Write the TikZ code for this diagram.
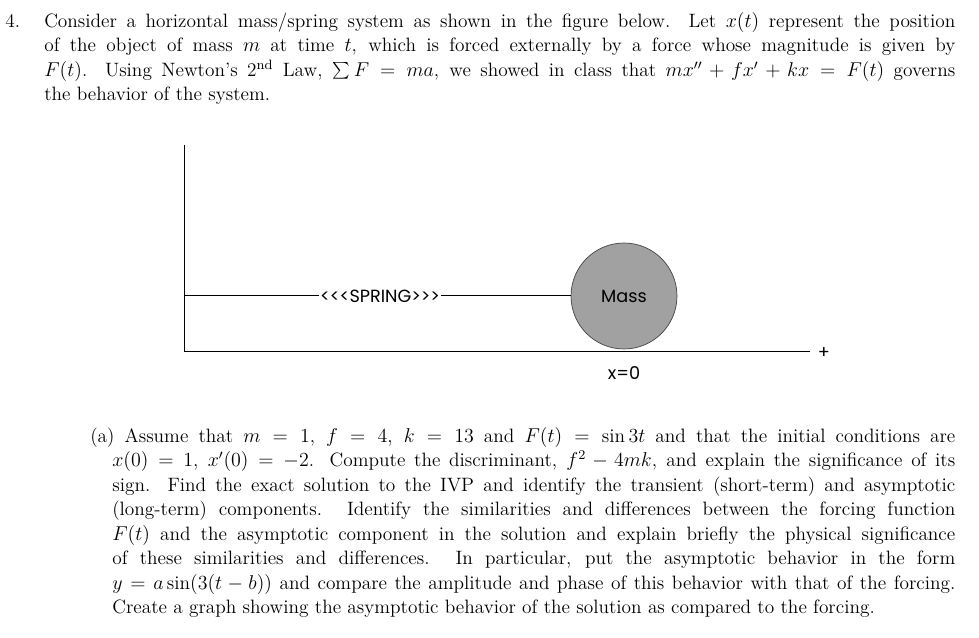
\documentclass[tikz,border=0pt]{standalone}
\usepackage{fontspec}
\newfontfamily\diagfont{Poppins}
\begin{document}
\begin{tikzpicture}[x=0.6pt,y=0.6pt,
  para/.style={anchor=north west,inner sep=0pt,align=justify},
  lab/.style={font=\diagfont\fontsize{10.6}{12}\selectfont,inner sep=0.6pt},
  ln/.style={draw=black,line width=0.6pt}]
\useasboundingbox (0,0) rectangle (979,-638);
\node[para,text width=570pt] (p1) at (5,-12) {\fontsize{11.6}{14.7}\selectfont\hangindent=23.4pt\hangafter=1\noindent\makebox[23.4pt][l]{4.}Consider a horizontal mass/spring system as shown in the figure below. Let $x(t)$ represent the position\linebreak of the object of mass $m$ at time $t$, which is forced externally by a force whose magnitude is given by\linebreak $F(t)$. Using Newton's 2\textsuperscript{nd} Law, $\sum F=ma$, we showed in class that $mx''+fx'+kx=F(t)$ governs\linebreak the behavior of the system.\par};
\coordinate (vt) at (184,-145);
\coordinate (o) at (184,-352);
\coordinate (xe) at (810,-352);
\coordinate (sl) at (184,-296);
\node[lab] (plus) at (824,-353) {+};
\node[lab] (spring) at (380,-296) {<<<SPRING>>>};
\node[circle,draw=black!75,fill=black!37,minimum size=63.6pt,inner sep=0pt,lab] (mass) at (624,-296) {Mass};
\node[lab] (x0) at (624,-373) {x=0};
\draw[ln] (vt) -- (o) -- (xe);
\draw[ln] (sl) -- (spring.west);
\draw[ln] (spring.east) -- (mass.west);
\node[para,text width=519pt] (pa) at (90,-427) {\fontsize{11.6}{14.7}\selectfont\hangindent=13.2pt\hangafter=1\noindent(a) Assume that $m=1$, $f=4$, $k=13$ and $F(t)=\sin 3t$ and that the initial conditions are\linebreak $x(0)=1$, $x'(0)=-2$. Compute the discriminant, $f^2-4mk$, and explain the significance of its\linebreak sign. Find the exact solution to the IVP and identify the transient (short-term) and asymptotic\linebreak (long-term) components. Identify the similarities and differences between the forcing function\linebreak $F(t)$ and the asymptotic component in the solution and explain briefly the physical significance\linebreak of these similarities and differences. In particular, put the asymptotic behavior in the form\linebreak $y=a\sin(3(t-b))$ and compare the amplitude and phase of this behavior with that of the forcing.\linebreak Create a graph showing the asymptotic behavior of the solution as compared to the forcing.\par};
\end{tikzpicture}
\end{document}
